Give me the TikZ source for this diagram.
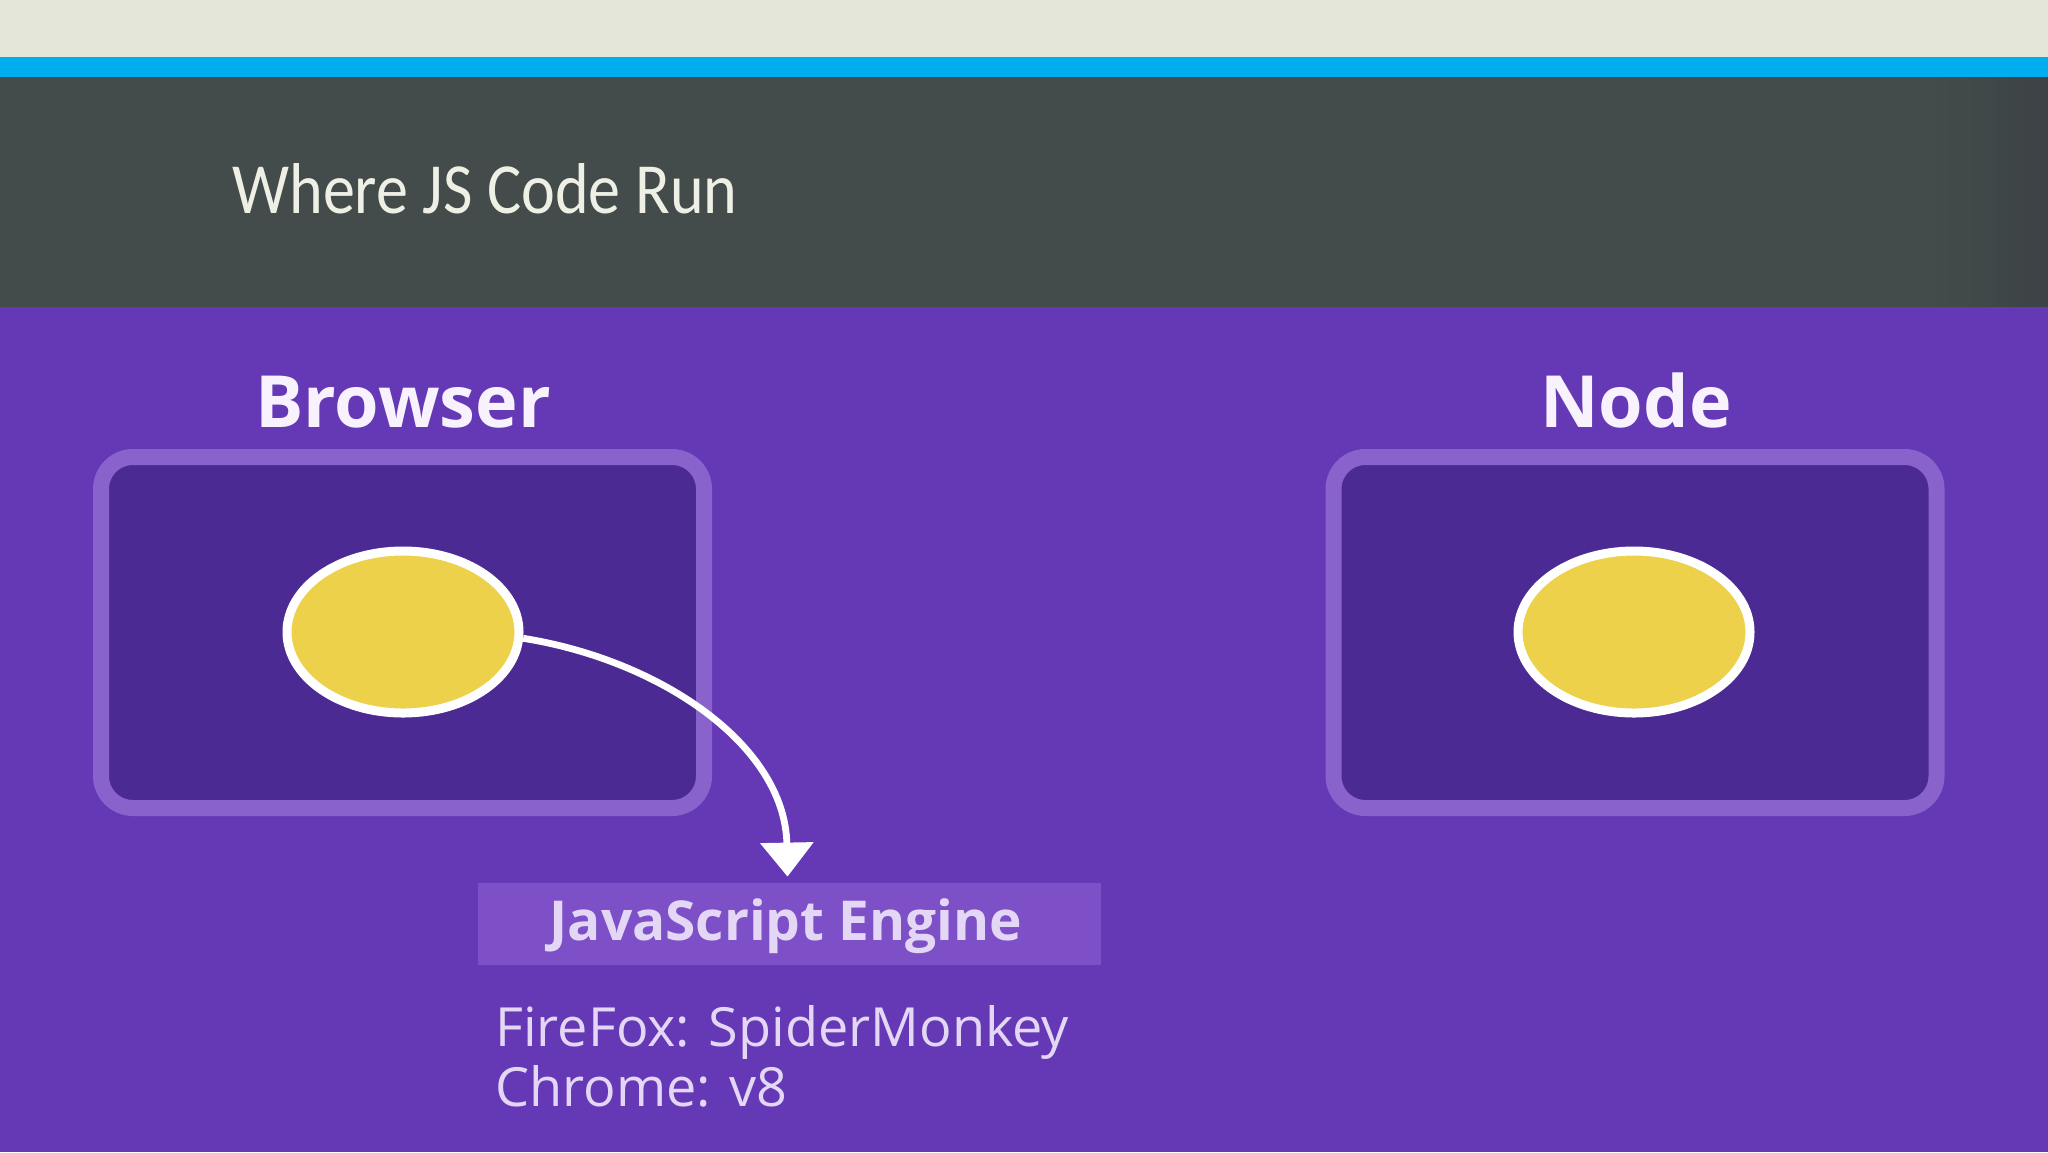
\documentclass[tikz,border=0pt]{standalone}
\usepackage{fontspec}
\setmainfont{Open Sans}
\newfontfamily\titlefont[FakeStretch=0.89]{Carlito}
\usetikzlibrary{arrows.meta,shapes.geometric,calc}
\definecolor{topgrey}{HTML}{E4E6DA}
\definecolor{barblue}{HTML}{00ADEF}
\definecolor{chalk}{HTML}{434C4A}
\definecolor{chalkdark}{HTML}{3C4246}
\definecolor{bgpurple}{HTML}{6539B5}
\definecolor{boxfill}{HTML}{4C2A93}
\definecolor{boxedge}{HTML}{8962CB}
\definecolor{engfill}{HTML}{7D50C8}
\definecolor{coin}{HTML}{EDD14B}
\definecolor{labwhite}{HTML}{F8F2FF}
\definecolor{softtext}{HTML}{E4D7F6}
\definecolor{titletext}{HTML}{EEF0E6}
\tikzset{
  envbox/.style={draw=boxedge, fill=boxfill, line width=8pt, rounded corners=16pt,
    minimum width=301.5pt, minimum height=175.5pt, inner sep=0pt},
  coinnode/.style={ellipse, draw=white, fill=coin, line width=4.5pt,
    minimum width=116pt, minimum height=81pt, inner sep=0pt},
  envlabel/.style={anchor=base, text=labwhite, font=\bfseries\fontsize{36}{42}\selectfont},
  engbox/.style={fill=engfill, minimum width=311.5pt, minimum height=41pt, inner sep=0pt},
  englabel/.style={anchor=base, text=softtext, font=\bfseries\fontsize{27.5}{32}\selectfont},
  infotext/.style={anchor=base west, inner sep=0pt, text=softtext, font=\fontsize{27}{32}\selectfont},
  flow/.style={draw=white, line width=3.4pt, -{Triangle[width=26pt,length=17pt]}}
}
\begin{document}
\begin{tikzpicture}[x=0.5pt,y=-0.5pt]
\useasboundingbox (0,0) rectangle (2048,1152);
% background bands
\fill[topgrey] (0,0) rectangle (2048,57);
\fill[barblue] (0,57) rectangle (2048,77);
\fill[chalk] (0,77) rectangle (2048,307);
\shade[left color=chalk,right color=chalkdark] (1930,77) rectangle (2048,307);
\fill[bgpurple] (0,307) rectangle (2048,1152);
% title
\node[anchor=base west, inner sep=0pt, text=titletext, font=\titlefont\fontsize{36}{42}\selectfont] (title) at (232,213) {Where JS Code Run};
% environments
\node[envbox] (browserbox) at (402.5,632.5) {};
\node[envbox] (nodebox) at (1635,632.5) {};
\node[envlabel] (browserlab) at (403,427) {Browser};
\node[envlabel] (nodelab) at (1636,427) {Node};
\node[coinnode] (bcoin) at (403,632) {};
\node[coinnode] (ncoin) at (1634,632) {};
% engine
\node[engbox] (engine) at (789.5,924) {};
\node[englabel] (englab) at (786,940) {JavaScript Engine};
\node[infotext] (ff) at (495,1046) {FireFox: SpiderMonkey};
\node[infotext] (chr) at (495,1106) {Chrome: v8};
\coordinate (tip) at ($(engine.north)+(-2,-6)$);
\draw[flow] (bcoin.-3) .. controls (660,660) and (785,745) .. (tip);
\end{tikzpicture}
\end{document}
